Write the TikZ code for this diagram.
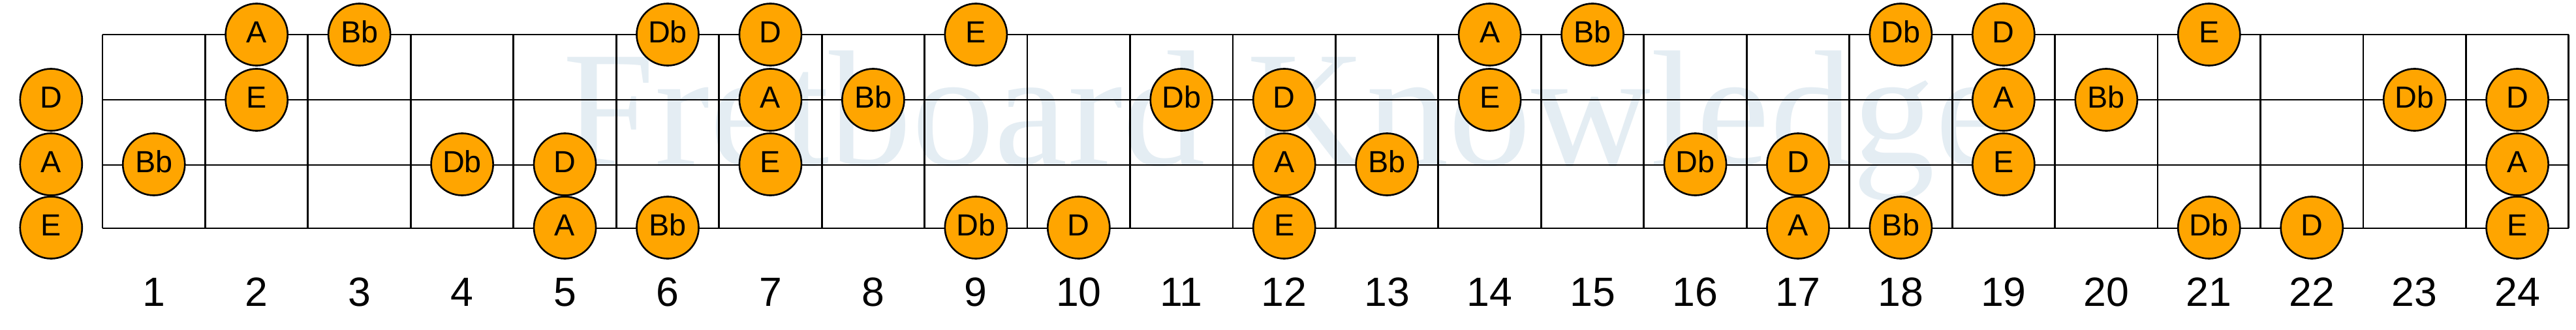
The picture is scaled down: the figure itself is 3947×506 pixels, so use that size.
\documentclass[tikz,border=0pt]{standalone}
\usepackage{fontspec}
\setmainfont{Liberation Sans}
\newfontfamily\wmfont{Liberation Serif}
\definecolor{notefill}{RGB}{255,165,0}
\definecolor{wmblue}{RGB}{228,237,243}
\begin{document}
\begin{tikzpicture}[x=0.01cm,y=-0.01cm,
  note/.style={circle,draw=black,line width=0.75pt,fill=notefill,minimum size=0.95cm,inner sep=0pt,
    font=\fontsize{13.3}{13.3}\selectfont,text height=0.716em,text depth=0pt},
  fretnum/.style={inner sep=0pt,font=\fontsize{17.8}{17.8}\selectfont,text height=0.716em,text depth=0pt},
  gridline/.style={line width=0.8pt,black},
  watermark/.style={anchor=base west,inner sep=0pt,text=wmblue,font=\wmfont\fontsize{72}{72}\selectfont}]
\useasboundingbox (0,0) rectangle (3947,506);
\fill[white] (0,0) rectangle (3947,506);
% watermark
\node[watermark] (wm) at (862,253) {Fretboard Knowledge};
% strings
\foreach \s/\y in {1/53,2/153,3/253,4/350}{
  \coordinate (sL\s) at (157,\y);
  \coordinate (sR\s) at (3935.8,\y);
  \draw[gridline] (sL\s) -- (sR\s);
}
% frets
\foreach \k in {0,...,24}{
  \coordinate (fT\k) at ({157+157.45*\k},53);
  \coordinate (fB\k) at ({157+157.45*\k},350);
  \draw[gridline] (fT\k) -- (fB\k);
}
% notes
\foreach \f/\t in {2/A,3/Bb,6/Db,7/D,9/E,14/A,15/Bb,18/Db,19/D,21/E}
  \node[note] (n1-\f) at ({78.3+157.45*\f},53) {\t};
\foreach \f/\t in {0/D,2/E,7/A,8/Bb,11/Db,12/D,14/E,19/A,20/Bb,23/Db,24/D}
  \node[note] (n2-\f) at ({78.3+157.45*\f},153) {\t};
\foreach \f/\t in {0/A,1/Bb,4/Db,5/D,7/E,12/A,13/Bb,16/Db,17/D,19/E,24/A}
  \node[note] (n3-\f) at ({78.3+157.45*\f},252) {\t};
\foreach \f/\t in {0/E,5/A,6/Bb,9/Db,10/D,12/E,17/A,18/Bb,21/Db,22/D,24/E}
  \node[note] (n4-\f) at ({78.3+157.45*\f},349) {\t};
% fret numbers
\foreach \f in {1,...,24}
  \node[fretnum] (num\f) at ({78.3+157.45*\f},457) {\f};
\end{tikzpicture}
\end{document}
